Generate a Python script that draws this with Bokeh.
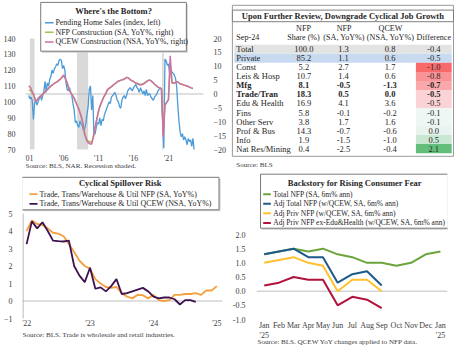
import numpy as np
from bokeh.plotting import figure
from bokeh.models import Range1d, LinearAxis, FixedTicker, ColumnDataSource, NumeralTickFormatter
from bokeh.layouts import row, column
from bokeh.embed import file_html
from bokeh.resources import INLINE
from bokeh.core.properties import value

FONT = "Liberation Serif"
INK = "#262626"
AX = "#404040"
FS = "7.9px"      # legend text
FTB = "8.5px"     # table text
FTH = "8.1px"     # table header
FT = "8px"        # ticks
FB = "8.5px"      # bold titles
FSRC = "7.1px"    # source notes

# ---------------- Panel 1 data ----------------
phs_first_year = 2001          # bi-monthly: Jan, Mar, May, Jul, Sep, Nov
phs = [104, 102, 103, 101, 89, 99,
       101, 98, 100, 102, 104, 101,
       104, 107, 113, 106, 112, 110,
       114, 116, 120, 118, 121, 122,
       124, 123, 126, 127, 126, 121,
       123, 120, 112, 108, 107, 109,
       106, 104, 99, 95, 87, 88,
       85, 84, 88, 86, 85, 82,
       83, 86, 92, 97, 108, 110,
       95, 104, 79, 80, 84, 87,
       86, 90, 85, 89, 88, 92,
       94, 96, 98, 100, 99, 103,
       104, 105, 106, 104, 101, 100,
       97, 96, 101, 103, 104, 102,
       104, 107, 108, 109, 108, 107,
       109, 110, 111, 109, 108, 106,
       109, 107, 105, 107, 104, 108,
       104, 105, 105, 103, 102, 101,
       103, 104, 105, 107, 108, 109,
       108, 88, 71, 127, 126, 123,
       124, 118, 120, 119, 118, 117,
       115, 110, 98, 88, 81, 78,
       80, 76, 78, 76, 73, 77,
       75, 76, 72, 77, 70]
const_first_year = 2001        # quarterly
const_nfp = [1.2, 1.5, 0.5, -0.8,
             -2.6, -2.0, -1.2, -0.8,
             0.0, 0.5, 1.2, 1.8,
             2.5, 3.0, 3.5, 4.0,
             4.3, 4.8, 5.3, 6.0,
             6.6, 5.4, 4.0, 2.0,
             0.6, -0.4, -1.5, -3.0,
             -4.5, -6.0, -8.0, -10.5,
             -14.0, -16.0, -17.0, -17.2,
             -17.5, -15.5, -12.0, -9.0,
             -6.0, -4.0, -2.5, -1.0,
             0.0, 1.5, 2.0, 2.5,
             3.0, 3.5, 4.0, 4.5,
             4.8, 5.0, 5.2, 5.5,
             6.0, 5.8, 5.2, 4.8,
             4.5, 4.0, 3.8, 3.6,
             3.4, 3.6, 3.9, 4.4,
             4.8, 5.1, 4.8, 4.2,
             3.5, 3.0, 2.5, 2.2,
             1.8, -13.0, -4.0, -3.0,
             -2.0, 11.0, 4.2, 3.8,
             4.2, 4.5, 4.0, 3.6,
             3.4, 3.2, 3.0, 2.8,
             2.5, 2.2, 2.0]
const_qcew = [3.0, 2.3, 0.8, -0.5,
              -2.8, -2.0, -1.2, -0.8,
              0.0, 0.5, 1.2, 1.8,
              2.5, 3.0, 3.5, 4.0,
              4.3, 4.8, 5.3, 6.0,
              6.9, 5.5, 4.0, 2.0,
              0.5, -0.5, -1.5, -3.0,
              -4.5, -6.0, -8.0, -10.5,
              -14.5, -16.5, -17.5, -18.0,
              -18.0, -15.5, -12.0, -9.0,
              -6.0, -4.0, -2.5, -1.0,
              0.0, 1.5, 2.0, 2.5,
              3.0, 3.5, 4.0, 4.5,
              4.8, 5.0, 5.2, 5.5,
              6.0, 5.8, 5.2, 4.8,
              4.5, 4.0, 3.8, 3.4,
              3.2, 3.4, 3.7, 4.2,
              4.6, 5.0, 4.8, 4.2,
              3.5, 3.0, 2.5, 2.2,
              1.8, -15.5, -4.0, -3.0,
              -2.0, 13.8, 4.0, 3.8,
              4.2, 4.5, 4.0, 3.6,
              3.4, 3.2, 3.0, 2.8,
              2.5, 2.2, 2.0]
rec_start = [2001.17, 2007.92, 2020.08]
rec_end = [2001.83, 2009.50, 2020.33]
p1_ticks = [2001, 2006, 2011, 2016, 2021]
p1_tick_labels = ["'01", "'06", "'11", "'16", "'21"]
p1_left_ticks = [70, 80, 90, 100, 110, 120, 130, 140]
p1_right_ticks = [-20, -15, -10, -5, 0, 5, 10, 15, 20]
p1_title = "Where's the Bottom?"
p1_series = ["Pending Home Sales (index, left)", "NFP Construction (SA, YoY%, right)",
             "QCEW Construction (NSA, YoY%, right)"]
p1_source = "Source: BLS, NAR. Recession shaded."

# ---------------- Panel 2 data (table) ----------------
tbl_title = "Upon Further Review, Downgrade Cyclical Job Growth"
tbl_head1 = ["", "NFP", "NFP", "QCEW", ""]
tbl_head2 = ["Sep-24", "Share (%)", "(SA, YoY%)", "(NSA, YoY%)", "Difference"]
tbl_rows = ["Total", "Private", "Const", "Leis & Hosp", "Mfg", "Trade/Tran",
            "Edu & Health", "Fins", "Other Serv", "Prof & Bus", "Info", "Nat Res/Mining"]
tbl_share = [100.0, 85.2, 5.2, 10.7, 8.1, 18.3, 16.9, 5.8, 3.8, 14.3, 1.9, 0.4]
tbl_nfp = [1.3, 1.1, 2.7, 1.4, -0.5, 0.5, 4.1, -0.1, 1.7, -0.7, -1.5, -2.5]
tbl_qcew = [0.8, 0.6, 1.7, 0.6, -1.3, 0.0, 3.6, -0.2, 1.6, -0.6, -1.0, -0.4]
tbl_diff = [-0.4, -0.5, -1.0, -0.8, -0.7, -0.5, -0.5, -0.1, -0.1, 0.0, 0.5, 2.1]
tbl_bold = ["Mfg", "Trade/Tran"]
tbl_source = "Source: BLS"

# ---------------- Panel 3 data ----------------
tt_first_year = 2022   # monthly from Jan 2022
tt_nfp = [4.0, 4.6, 4.4, 4.35, 4.15, 3.9, 3.85, 3.7, 3.25, 2.8, 2.3, 2.0,
          1.85, 1.25, 1.0, 0.8, 0.75, 0.8, 0.45, 0.25, 0.15, 0.35, 0.33, 0.15,
          0.35, 0.05, 0.0, 0.05, 0.35, 0.35, 0.4, 0.4, 0.45, 0.35, 0.6, 0.6, 0.85]
tt_qcew = [3.25, 4.55, 4.15, 4.5, 4.0, 3.45, 3.42, 3.4, 3.45, 2.0, 1.45, 1.08,
           1.9, 0.7, 0.78, 0.55, 0.85, 1.25, 0.4, 0.45, 0.55, 0.65, 0.75, 0.55,
           0.25, 0.15, 0.2, 0.2, 0.1, -0.2, 0.05, 0.05, -0.05]
p3_ticks = [2022, 2023, 2024, 2025]
p3_tick_labels = ["'22", "'23", "'24", "'25"]
p3_y_ticks = [-1, 0, 1, 2, 3, 4, 5]
p3_title = "Cyclical Spillover Risk"
p3_series = ["Trade, Trans/Warehouse & Util NFP (SA, YoY%)",
             "Trade, Trans/Warehouse & Util QCEW (NSA, YoY%)"]
p3_source = "Source: BLS. Trade is wholesale and retail industries."

# ---------------- Panel 4 data ----------------
months = ["Jan\n'25", "Feb", "Mar", "Apr", "May", "Jun", "Jul", "Aug", "Sep",
          "Oct", "Nov", "Dec", "Jan\n'25"]
total_nfp = [1.3, 1.4, 1.5, 1.4, 1.5, 1.3, 1.2, 1.0, 1.0, 0.9, 1.0, 1.3, 1.4]
adj_total = [1.3, 1.4, 1.5, 1.2, 1.2, 0.3, 0.6, 0.7, 0.2]
adj_priv = [1.0, 1.1, 1.2, 1.0, 0.9, 0.0, 0.4, 0.4, 0.0]
adj_priv_ex = [0.2, 0.3, 0.5, 0.4, 0.4, -0.5, -0.2, -0.3, -0.6]
p4_y_ticks = [-1.0, -0.5, 0.0, 0.5, 1.0, 1.5, 2.0]
p4_title = "Backstory for Rising Consumer Fear"
p4_series = ["Total NFP (SA, 6m% ann)", "Adj Total NFP (w/QCEW, SA, 6m% ann)",
             "Adj Priv NFP (w/QCEW, SA, 6m% ann)",
             "Adj Priv NFP ex-Edu&Health (w/QCEW, SA, 6m% ann)"]
p4_source = "Source: BLS. QCEW YoY changes applied to NFP data."

# ---------------- layout helpers ----------------
W_L, W_R = 229, 229
H_T, H_B = 172, 175


class Frame:
    """Maps canvas pixels (frame spans full height, left/right borders L/R) to data."""
    def __init__(self, W, H, L, R, xa, xb, ya, yb):
        (xv0, xp0), (xv1, xp1) = xa, xb
        (yv0, yp0), (yv1, yp1) = ya, yb
        self.kx = (xv1 - xv0) / (xp1 - xp0)
        self.ky = (yv1 - yv0) / (yp1 - yp0)
        self.xv0, self.xp0, self.yv0, self.yp0 = xv0, xp0, yv0, yp0
        self.x_range = Range1d(self.x(L), self.x(W - R))
        self.y_range = Range1d(self.y(H), self.y(0))

    def x(self, px):
        return self.xv0 + (px - self.xp0) * self.kx

    def y(self, py):
        return self.yv0 + (py - self.yp0) * self.ky


def style_axis(ax, standoff=4):
    ax.axis_line_color = None
    ax.major_tick_line_color = None
    ax.minor_tick_line_color = None
    ax.major_label_text_font = FONT
    ax.major_label_text_font_size = FT
    ax.major_label_text_color = AX
    ax.major_label_standoff = standoff


def base_fig(W, H, F, L, R, yaxis="left"):
    p = figure(width=W, height=H, x_range=F.x_range, y_range=F.y_range, title=None,
               output_backend="svg", toolbar_location=None, x_axis_location=None,
               y_axis_location=yaxis, min_border_left=L, min_border_right=R,
               min_border_top=0, min_border_bottom=0)
    p.grid.grid_line_color = None
    p.outline_line_color = None
    p.background_fill_color = "white"
    p.border_fill_color = "white"
    return p


def txt(p, xs, ys, texts, size, align="left", baseline="middle", style="normal", color=INK, **kw):
    p.text(x=xs, y=ys, text=texts, text_font=value(FONT), text_font_size=size,
           text_font_style=style, text_color=color, text_align=align,
           text_baseline=baseline, **kw)


def draw_legend(p, F, box, title, title_x, title_y, labels, colors, width, gx, tx, ys, size=FS):
    l, t, r, b = box
    # soft drop shadow, then the box
    p.quad(left=[F.x(l + 1.5)], right=[F.x(r + 1.5)], top=[F.y(t + 1.5)], bottom=[F.y(b + 1.5)],
           fill_color="#CFCFCF", line_color=None)
    p.quad(left=[F.x(l)], right=[F.x(r)], top=[F.y(t)], bottom=[F.y(b)],
           fill_color="white", line_color="#7A7A7A", line_width=1)
    txt(p, [F.x(title_x)], [F.y(title_y)], [title], FB, align="center", style="bold")
    yy = [F.y(v) for v in ys]
    p.segment(x0=[F.x(gx[0])] * len(ys), x1=[F.x(gx[1])] * len(ys), y0=yy, y1=yy,
              line_color=colors, line_width=width)
    txt(p, [F.x(tx)] * len(ys), yy, labels, size)


# ---------------- Panel 1 ----------------
F1 = Frame(W_L, H_T, 21, 21, (2001, 24.4), (2021, 171.2), (140, 38), (70, 149))
F1r = Frame(W_L, H_T, 21, 21, (2001, 24.4), (2021, 171.2), (20, 38), (-20, 149))
p1 = base_fig(W_L, H_T, F1, 21, 21)
p1.extra_y_ranges = {"r": F1r.y_range}
c1 = ["#4C9BD8", "#9DC44D", "#CF6FA8"]
p1.quad(left=rec_start, right=rec_end, bottom=p1_left_ticks[0], top=p1_left_ticks[-1],
        fill_color="#D9D9D9", line_color=None)
p1.segment(x0=[F1.x_range.start], x1=[F1.x_range.end], y0=[0], y1=[0], y_range_name="r",
           line_color="#BFBFBF", line_width=1)
phs_x = [phs_first_year + i / 6 for i in range(len(phs))]
c_x = [const_first_year + i / 4 for i in range(len(const_nfp))]
p1.line(phs_x, phs, line_color=c1[0], line_width=1.3)
p1.line(c_x, const_nfp, line_color=c1[1], line_width=1.5, y_range_name="r")
p1.line(c_x, const_qcew, line_color=c1[2], line_width=1.5, y_range_name="r")
p1.yaxis.ticker = FixedTicker(ticks=p1_left_ticks)
rax = LinearAxis(y_range_name="r", ticker=FixedTicker(ticks=p1_right_ticks))
p1.add_layout(rax, "right")
for ax in p1.yaxis:
    style_axis(ax)
txt(p1, p1_ticks, [F1.y(158.2)] * len(p1_ticks), p1_tick_labels, FT, align="center", color=AX)
txt(p1, [F1.x(21.0)], [F1.y(165.4)], [p1_source], FSRC, color=AX)
draw_legend(p1, F1, (37, 1.9, 190, 50.7), p1_title, 113.5, 10.6, p1_series, c1, 1.5,
            (41.5, 50.5), 52.5, [22.3, 31.8, 41.4])

# ---------------- Panel 2 (table) ----------------
p2 = figure(width=W_R, height=H_T, x_range=Range1d(0, W_R), y_range=Range1d(H_T, 0),
            title=None, output_backend="svg", toolbar_location=None, x_axis_location=None,
            y_axis_location=None, min_border=0)
p2.grid.grid_line_color = None
p2.outline_line_color = None
n = len(tbl_rows)
row0, pitch = 48.8, 9.03
ys = [row0 + i * pitch for i in range(n)]
tleft, tright = 4.8, 222.2
col_x = [6.8, 74.4, 114.0, 160.6, 204.3]
p2.quad(left=[2.9], right=[224.0], top=[4.8], bottom=[155.8],
        fill_color=None, line_color="#9A9A9A", line_width=1)
p2.quad(left=[2.9], right=[224.0], top=[9.6], bottom=[21.2],
        fill_color="white", line_color="#7F7F7F", line_width=1)
txt(p2, [(2.9 + 224.0) / 2], [15.6], [tbl_title], FB, align="center", style="bold")
p2.quad(left=[tleft], right=[tright], top=[ys[0] - pitch / 2], bottom=[ys[0] + pitch / 2],
        fill_color="#E3E3E3", line_color=None)
p2.quad(left=[tleft], right=[tright], top=[ys[1] - pitch / 2], bottom=[ys[1] + pitch / 2],
        fill_color="#C8DAF0", line_color=None)
# Excel-like 3 colour scale (midpoint = 50th percentile) for the difference column
sc = tbl_diff[2:]
lo, hi, mid = min(sc), max(sc), float(np.median(sc))
red, white, green = (248, 105, 107), (252, 252, 255), (99, 190, 123)


def mix(c1_, c2_, t):
    return "#%02x%02x%02x" % tuple(int(round(a + (b - a) * t)) for a, b in zip(c1_, c2_))


cell_cols = [mix(white, red, (mid - d) / (mid - lo)) if d <= mid
             else mix(white, green, (d - mid) / (hi - mid)) for d in sc]
p2.quad(left=[186.4] * len(sc), right=[tright] * len(sc),
        top=[y - pitch / 2 for y in ys[2:]], bottom=[y + pitch / 2 for y in ys[2:]],
        fill_color=cell_cols, line_color=None)
hy1, hy2 = 27.6, 36.8
head_x = [6.8, 74.0, 114.6, 161.0, 204.3]
aligns = ["left", "center", "center", "center", "center"]
for j in range(5):
    if tbl_head1[j]:
        txt(p2, [head_x[j]], [hy1], [tbl_head1[j]], FTH, align=aligns[j])
    txt(p2, [head_x[j]], [hy2], [tbl_head2[j]], FTH, align=aligns[j])
styles = ["bold" if r in tbl_bold else "normal" for r in tbl_rows]
cols = [tbl_rows,
        ["%.1f" % v for v in tbl_share],
        ["%.1f" % v for v in tbl_nfp],
        ["%.1f" % v for v in tbl_qcew],
        ["%.1f" % v for v in tbl_diff]]
for j in range(5):
    src = ColumnDataSource(dict(x=[col_x[j]] * n, y=ys, t=cols[j], s=styles))
    p2.text(x="x", y="y", text="t", text_font_style="s", source=src, text_font=value(FONT),
            text_font_size=FTB, text_color=INK, text_align=aligns[j], text_baseline="middle")
txt(p2, [6.8], [164.6], [tbl_source], FSRC, color=AX)

# ---------------- Panel 3 ----------------
F3 = Frame(W_L, H_B, 22, 7, (2022, 26.1), (2025, 216.4), (5, 41), (-1, 146))
p3 = base_fig(W_L, H_B, F3, 22, 7)
c3 = ["#F4A040", "#3E1250"]
p3.segment(x0=[F3.x_range.start], x1=[F3.x_range.end], y0=[0], y1=[0],
           line_color="#BFBFBF", line_width=1)
p3.segment(x0=[F3.x(22.5)], x1=[F3.x(22.5)], y0=[p3_y_ticks[0]], y1=[p3_y_ticks[-1]],
           line_color="#A6A6A6", line_width=1)
tn_x = [tt_first_year + i / 12 for i in range(len(tt_nfp))]
tq_x = [tt_first_year + i / 12 for i in range(len(tt_qcew))]
p3.line(tn_x, tt_nfp, line_color=c3[0], line_width=1.8)
p3.line(tq_x, tt_qcew, line_color=c3[1], line_width=1.8)
p3.yaxis.ticker = FixedTicker(ticks=p3_y_ticks)
style_axis(p3.yaxis[0])
txt(p3, p3_ticks, [F3.y(151)] * len(p3_ticks), p3_tick_labels, FT, align="center", color=AX)
txt(p3, [F3.x(22)], [F3.y(162.8)], [p3_source], FSRC, color=AX)
draw_legend(p3, F3, (21.2, 4.8, 218.5, 37.3), p3_title, 119.8, 10.4, p3_series, c3, 1.8,
            (29, 37), 39, [21.7, 31.3])

# ---------------- Panel 4 ----------------
F4 = Frame(W_R, H_B, 18, 11, (0, 26.1), (12, 210.6), (2.0, 62), (-1.0, 147))
p4 = base_fig(W_R, H_B, F4, 18, 11)
c4 = ["#6AA43C", "#1C5A8A", "#FFC12E", "#B0123B"]
p4.segment(x0=[F4.x_range.start], x1=[F4.x_range.end], y0=[0], y1=[0],
           line_color="#BFBFBF", line_width=1)
for vals, col in zip([total_nfp, adj_total, adj_priv, adj_priv_ex], c4):
    p4.line(list(range(len(vals))), vals, line_color=col, line_width=2)
p4.yaxis.ticker = FixedTicker(ticks=p4_y_ticks)
p4.yaxis.formatter = NumeralTickFormatter(format="0.0")
style_axis(p4.yaxis[0], standoff=5)
txt(p4, list(range(len(months))), [F4.y(148.2)] * len(months), months, FT, align="center",
    baseline="top", color=AX, text_line_height=1.15)
txt(p4, [F4.x(19.0)], [F4.y(169.4)], [p4_source], FSRC, color=AX)
draw_legend(p4, F4, (22.2, 1.7, 222.5, 55.7), p4_title, 121, 10.4, p4_series, c4, 2,
            (25, 33), 35.5, [21.7, 31.3, 40.8, 50.4], size="7.5px")

layout = column(row(p1, p2), row(p3, p4))
open("out.html", "w").write(file_html(layout, INLINE))
